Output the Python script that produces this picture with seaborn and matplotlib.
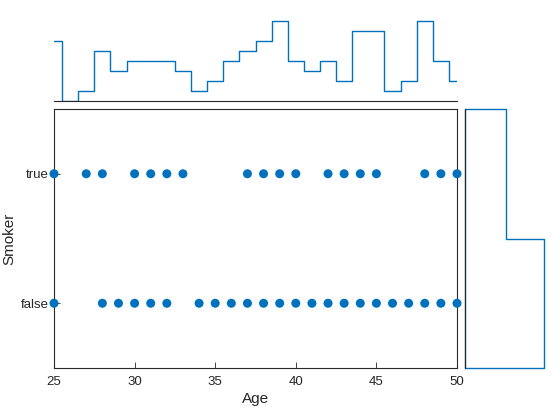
import numpy as np
import pandas as pd
import matplotlib
matplotlib.use('Agg')
import matplotlib.pyplot as plt
import seaborn as sns

# ages present in the data and how many patients of each age smoke / do not smoke
ages = [25, 27, 28, 29, 30, 31, 32, 33, 34, 35, 36, 37, 38, 39, 40, 41, 42, 43, 44, 45, 46, 47, 48, 49, 50]
smoker_counts = [2, 1, 2, 0, 2, 1, 2, 3, 0, 0, 0, 2, 2, 3, 1, 0, 2, 1, 3, 2, 0, 0, 3, 1, 1]
nonsmoker_counts = [4, 0, 3, 3, 2, 3, 2, 0, 1, 2, 4, 3, 4, 5, 3, 3, 2, 1, 4, 5, 1, 2, 5, 3, 1]
smoker_labels = ['false', 'true']

age_col = np.concatenate([np.repeat(ages, smoker_counts), np.repeat(ages, nonsmoker_counts)])
smk_col = ['true'] * sum(smoker_counts) + ['false'] * sum(nonsmoker_counts)
df = pd.DataFrame({'Age': age_col, 'Smoker': smk_col})
df['SmokerPos'] = df['Smoker'].map({'false': 1, 'true': 2})

blue = '#0072BD'
dark = '#262626'

sns.set_style('white')
plt.rcParams['font.family'] = ['Liberation Sans', 'DejaVu Sans']

fig = plt.figure(figsize=(5.6, 4.2), dpi=100)
ax = fig.add_axes([54/560, 52/420, 403/560, 259/420])
ax_top = fig.add_axes([54/560, 319/420, 403/560, 81/420])
ax_right = fig.add_axes([465/560, 52/420, 80/560, 259/420])

# scatter (overlapping patients drawn once)
sns.scatterplot(data=df.drop_duplicates(['Age', 'Smoker']), x='Age', y='SmokerPos', ax=ax,
                color=blue, s=42, edgecolor='none', clip_on=False, legend=False, zorder=3)
ax.set_xlim(25, 50)
ax.set_ylim(0.5, 2.5)
ax.set_xticks([25, 30, 35, 40, 45, 50])
ax.set_yticks([1, 2])
ax.set_yticklabels(smoker_labels)
ax.set_xlabel('Age', fontsize=11, color=dark, labelpad=3)
ax.set_ylabel('Smoker', fontsize=11, color=dark, labelpad=3)
ax.tick_params(direction='in', length=4, width=0.6, colors=dark, labelsize=9.5,
               top=False, right=False, bottom=True, left=True)
ax.tick_params(axis='x', pad=6)
ax.tick_params(axis='y', pad=4)
for sp in ax.spines.values():
    sp.set_color(dark)
    sp.set_linewidth(0.8)

# top histogram
sns.histplot(data=df, x='Age', bins=np.arange(24.5, 51.5, 1), element='step', fill=False,
             color=blue, linewidth=1.0, ax=ax_top)
ax_top.set_xlim(25, 50)
ax_top.set_ylim(0, 8.05)
ax_top.set_xticks([])
ax_top.set_yticks([])
ax_top.set_xlabel('')
ax_top.set_ylabel('')
for name, sp in ax_top.spines.items():
    sp.set_visible(name == 'bottom')
ax_top.spines['bottom'].set_color(dark)
ax_top.spines['bottom'].set_linewidth(0.8)

# right histogram
sns.histplot(data=df, y='SmokerPos', bins=[0.5, 1.5, 2.5], element='step', fill=True,
             color=blue, ax=ax_right)
for coll in ax_right.collections:
    coll.set_facecolor('none')
    coll.set_edgecolor(blue)
    coll.set_linewidth(1.0)
    coll.set_clip_on(False)
ax_right.set_ylim(0.5, 2.5)
ax_right.set_xlim(0, 66.5)
ax_right.set_xticks([])
ax_right.set_yticks([])
ax_right.set_xlabel('')
ax_right.set_ylabel('')
for name, sp in ax_right.spines.items():
    sp.set_visible(name == 'left')
ax_right.spines['left'].set_color(dark)
ax_right.spines['left'].set_linewidth(0.8)
ax_right.spines['left'].set_zorder(5)

fig.savefig('out.png', dpi=100)
